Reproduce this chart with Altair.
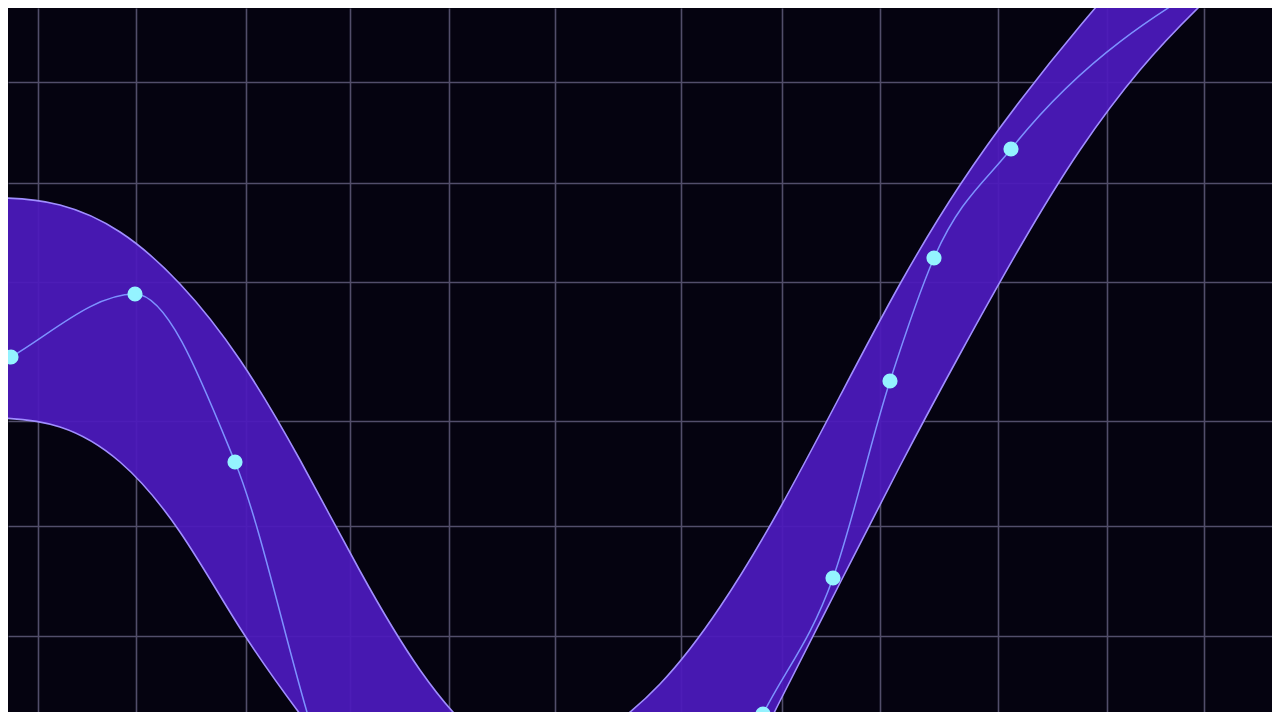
import altair as alt
import pandas as pd

# Grid positions (data units == reference pixel coordinates)
grid_x = [38, 136, 246, 350, 449, 555, 681, 782, 880, 998, 1107, 1204]
grid_y = [82, 183, 282, 421, 526, 636]

# Band (confidence envelope) knots
band_x = [-60, 0, 60, 120, 180, 240, 300, 360, 420, 480, 540, 600, 660, 720,
          780, 840, 900, 960, 1020, 1080, 1140, 1200, 1280, 1340]
band_upper = [201, 198, 205, 232, 284, 360, 460, 571, 670, 738, 762, 735, 684, 607,
              508, 396, 284, 185, 101, 26, -43, -106, -186, -250]
band_lower = [418, 418, 427, 462, 532, 628, 714, 793, 870, 933, 970, 962, 910, 818,
              701, 583, 466, 354, 247, 150, 70, 6, -70, -125]

# Observed series
series_x = [-100, 11, 135, 235, 340, 520, 690, 763, 833, 890, 934, 1011, 1230]
series_y = [430, 357, 294, 462, 800, 950, 860, 714, 578, 381, 258, 149, -30]

band_df = pd.DataFrame({"x": band_x, "upper": band_upper, "lower": band_lower})
series_df = pd.DataFrame({"x": series_x, "y": series_y})

xscale = alt.Scale(domain=[8, 1272], nice=False, zero=False)
yscale = alt.Scale(domain=[8, 712], nice=False, zero=False, reverse=True)

grid_color = "#524e6a"

xaxis = alt.Axis(values=grid_x, labels=False, ticks=False, domain=False, title=None,
                 grid=True, gridColor=grid_color, gridWidth=1.6, gridOpacity=1)
yaxis = alt.Axis(values=grid_y, labels=False, ticks=False, domain=False, title=None,
                 grid=True, gridColor=grid_color, gridWidth=1.6, gridOpacity=1)

base_band = alt.Chart(band_df)

area = base_band.mark_area(interpolate="natural", color="#4c1abd", opacity=0.93, clip=True).encode(
    x=alt.X("x:Q", scale=xscale, axis=xaxis),
    y=alt.Y("upper:Q", scale=yscale, axis=yaxis),
    y2="lower:Q",
)

edge_upper = base_band.mark_line(interpolate="natural", color="#a08eff", strokeWidth=1.6, clip=True).encode(
    x=alt.X("x:Q", scale=xscale),
    y=alt.Y("upper:Q", scale=yscale),
)
edge_lower = base_band.mark_line(interpolate="natural", color="#a08eff", strokeWidth=1.6, clip=True).encode(
    x=alt.X("x:Q", scale=xscale),
    y=alt.Y("lower:Q", scale=yscale),
)

line = alt.Chart(series_df).mark_line(interpolate="monotone", color="#7d92ff", strokeWidth=1.5, clip=True).encode(
    x=alt.X("x:Q", scale=xscale),
    y=alt.Y("y:Q", scale=yscale),
)
points = alt.Chart(series_df).mark_circle(color="#94f3ff", opacity=1, size=230, clip=True).encode(
    x=alt.X("x:Q", scale=xscale),
    y=alt.Y("y:Q", scale=yscale),
)

chart = alt.layer(area, edge_upper, edge_lower, line, points).properties(
    width=1264,
    height=704,
    autosize=alt.AutoSizeParams(type="fit", contains="padding"),
    padding=0,
    background="#050310",
).configure_view(stroke=None)

chart.save("out.html", embed_options={"renderer": "svg", "actions": False})
